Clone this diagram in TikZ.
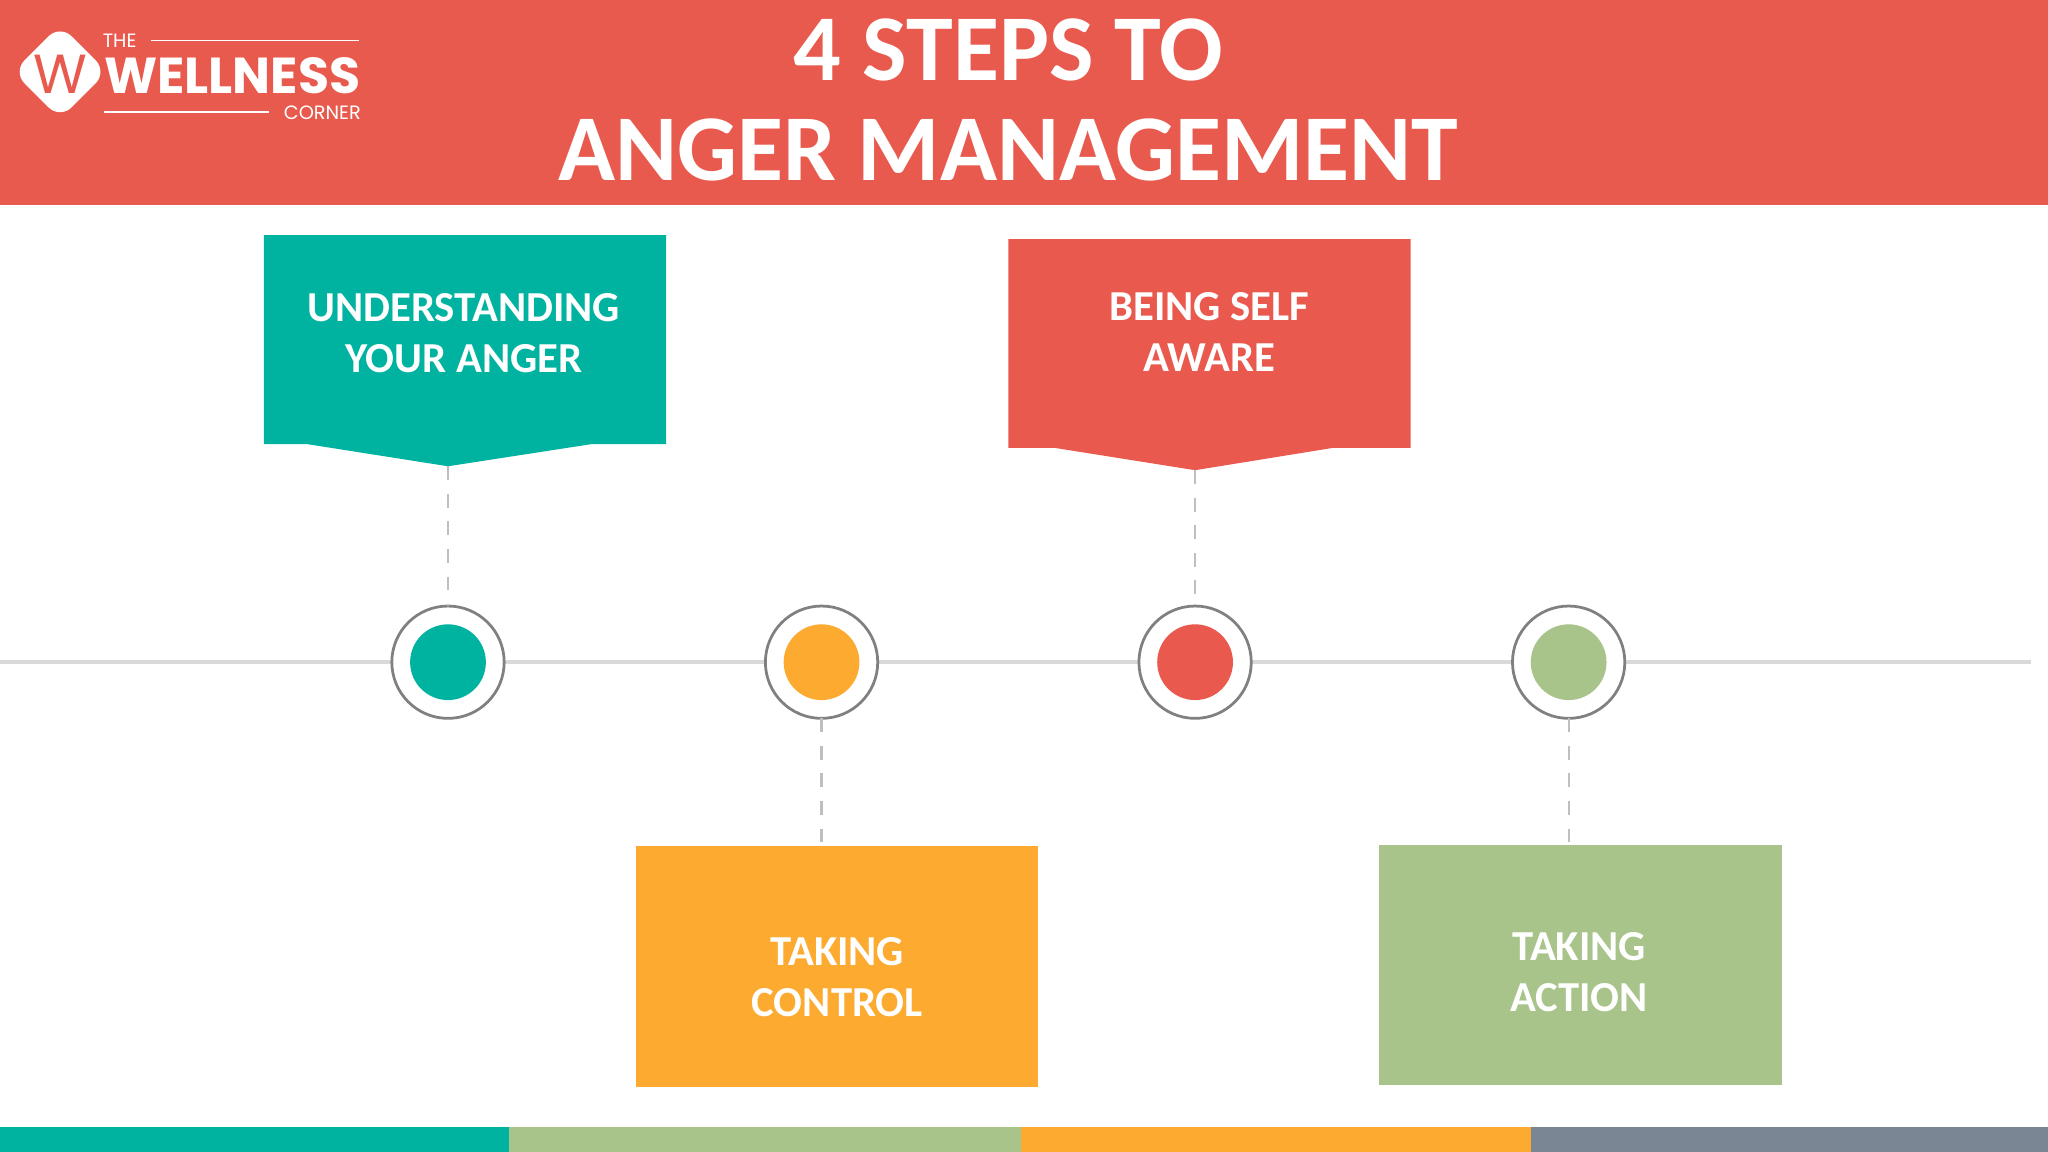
\documentclass[tikz,border=0pt]{standalone}
\usepackage{fontspec}
\setmainfont{Carlito}
\newfontfamily\logofont{Poppins}
\definecolor{hdr}{HTML}{E95A4E}
\definecolor{teal}{HTML}{00B3A0}
\definecolor{orng}{HTML}{FDAA30}
\definecolor{redc}{HTML}{E9594D}
\definecolor{grn}{HTML}{A8C48A}
\definecolor{gry}{HTML}{7A8694}
\begin{document}
\begin{tikzpicture}[x=0.01cm,y=-0.01cm,
  boxtxt/.style={text=white,font=\fontsize{9.3}{11.1}\selectfont\bfseries,align=center},
  conn/.style={draw=black!25,dashed,line width=0.5pt}]
\useasboundingbox (0,0) rectangle (1568,882);
\fill[hdr] (0,0) rectangle (1568,157);
% logo
\fill[white,rounded corners=3.5pt] (46,19) -- (82,55) -- (46,91) -- (10,55) -- cycle;
\node (logoW) at (46,57) {\logofont\fontsize{12}{12}\selectfont\color{hdr}W};
\node[anchor=west,inner sep=0] (the) at (78,31) {\logofont\fontsize{4.2}{5}\selectfont\color{white}THE};
\node[anchor=west,inner sep=0] (well) at (79,58) {\logofont\fontsize{11}{11}\selectfont\bfseries\color{white}WELLNESS};
\node[anchor=east,inner sep=0] (corner) at (277,86) {\logofont\fontsize{4.2}{5}\selectfont\color{white}CORNER};
\draw[white,line width=0.4pt] ([xshift=3]the.east) -- (275,31);
\draw[white,line width=0.4pt] (80,86) -- ([xshift=-3]corner.west);
\node[text=white,font=\fontsize{20.5}{22}\selectfont\bfseries] (t1) at (772,38) {4 STEPS TO};
\node[text=white,font=\fontsize{20.5}{22}\selectfont\bfseries] (t2) at (772,115) {ANGER MANAGEMENT};
% timeline
\draw[black!15,line width=1pt] (0,507) -- (1555,507);
\foreach \n/\x/\c in {c1/343/teal,c2/629/orng,c3/915/redc,c4/1201/grn}{
  \draw[black!50,line width=0.6pt,fill=white] (\x,507) circle (43);
  \fill[\c] (\x,507) circle (29);
  \coordinate (\n t) at (\x,464);
  \coordinate (\n b) at (\x,550);
}
% boxes
\fill[teal] (202,180) -- (510,180) -- (510,340) -- (453,340) -- (343,357) -- (235,340) -- (202,340) -- cycle;
\coordinate (p1) at (343,357);
\node[boxtxt] (b1) at (355,255) {UNDERSTANDING\\YOUR ANGER};
\fill[redc] (772,183) -- (1080,183) -- (1080,343) -- (1020,343) -- (915,360) -- (808,343) -- (772,343) -- cycle;
\coordinate (p2) at (915,360);
\node[boxtxt] (b2) at (926,254) {BEING SELF\\AWARE};
\fill[orng] (487,648) rectangle (795,832);
\coordinate (p3) at (629,648);
\node[boxtxt] (b3) at (641,748) {TAKING\\CONTROL};
\fill[grn] (1056,647) rectangle (1364,831);
\coordinate (p4) at (1201,647);
\node[boxtxt] (b4) at (1209,744) {TAKING\\ACTION};
\draw[conn] (p1) -- (c1t);
\draw[conn] (p2) -- (c3t);
\draw[conn] (c2b) -- (p3);
\draw[conn] (c4b) -- (p4);
% bottom bars
\fill[teal] (0,863) rectangle (390,882);
\fill[grn] (390,863) rectangle (782,882);
\fill[orng] (782,863) rectangle (1172,882);
\fill[gry] (1172,863) rectangle (1568,882);
\end{tikzpicture}
\end{document}
